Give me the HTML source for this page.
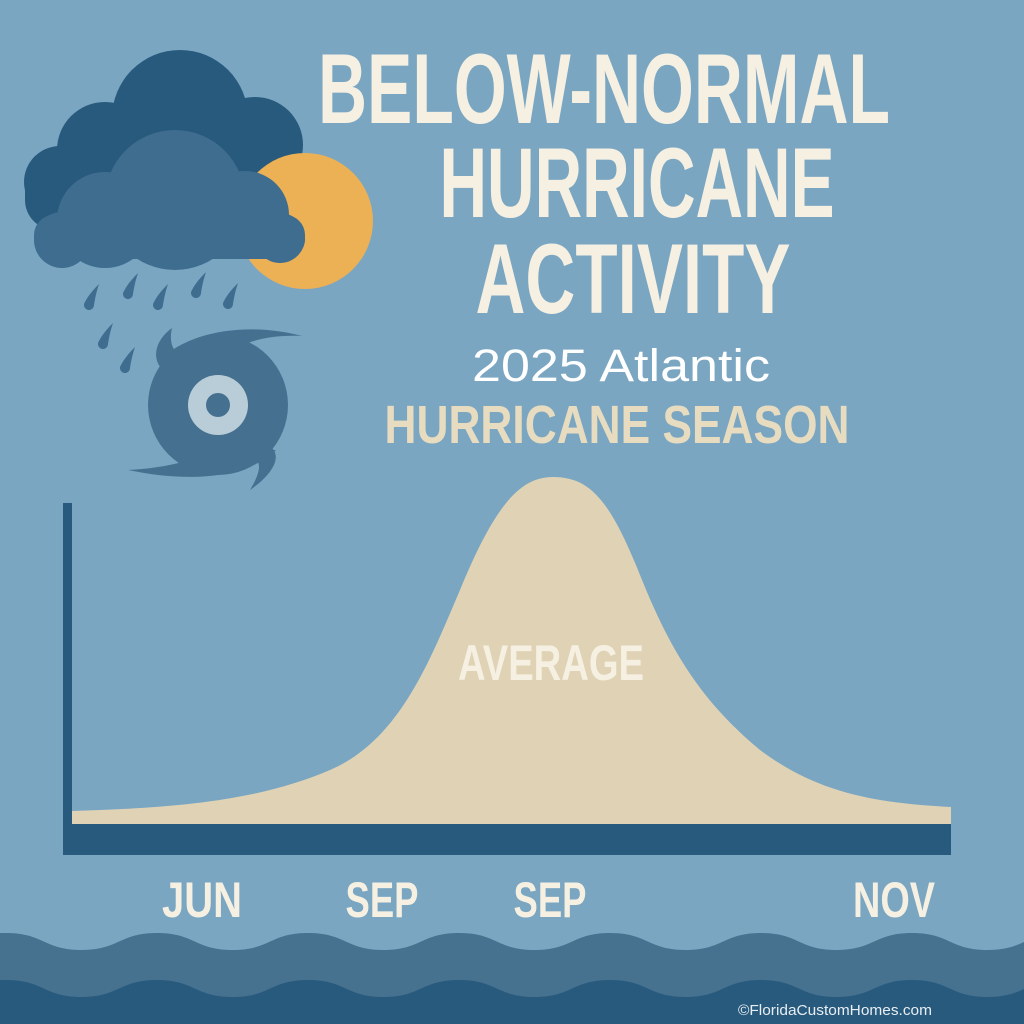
<!DOCTYPE html>
<html><head><meta charset="utf-8"><style>
html,body{margin:0;padding:0;background:#7aa6c2;}
svg{display:block}
.n{font-family:"Liberation Sans Narrow","Liberation Sans",sans-serif;font-weight:bold;}
</style></head><body>
<svg width="1024" height="1024" viewBox="0 0 1024 1024" xmlns="http://www.w3.org/2000/svg">
<rect width="1024" height="1024" fill="#7aa6c2"/>
<g fill="#285a7e">
<circle cx="180" cy="118" r="68"/>
<circle cx="105" cy="150" r="48"/>
<circle cx="60" cy="182" r="36"/>
<circle cx="255" cy="145" r="48"/>
<rect x="25" y="160" width="270" height="70" rx="30"/>
</g>
<circle cx="305" cy="221" r="68" fill="#ecb055"/>
<g fill="#3f6d8f">
<circle cx="175" cy="200" r="70"/>
<circle cx="105" cy="220" r="48"/>
<circle cx="245" cy="215" r="44"/>
<circle cx="280" cy="238" r="25"/>
<circle cx="62" cy="240" r="28"/>
<rect x="34" y="215" width="271" height="44" rx="20"/>
</g>
<g fill="#3f6d8f" id="drops"></g>
<g fill="#45708f">
<circle cx="218" cy="405" r="70"/>
<path d="M160,360 C190,330 250,322 302,336 C262,334 235,345 222,360 Z"/>
<path d="M165,372 C150,360 155,340 172,328 C168,345 175,358 190,355 Z"/>
<path d="M276,450 C245,480 185,482 128,470 C170,468 200,458 215,450 Z"/>
<path d="M268,445 C285,455 272,475 250,490 C262,470 262,460 250,455 Z"/>
</g>
<circle cx="218" cy="405" r="30" fill="#b8cdd8"/>
<circle cx="218" cy="405" r="12" fill="#45708f"/>
<g class="n" fill="#f5f0e2" text-anchor="middle">
<text x="604" y="123" font-size="99" textLength="572" lengthAdjust="spacingAndGlyphs">BELOW-NORMAL</text>
<text x="637" y="217" font-size="99" textLength="395" lengthAdjust="spacingAndGlyphs">HURRICANE</text>
<text x="633" y="313" font-size="99" textLength="315" lengthAdjust="spacingAndGlyphs">ACTIVITY</text>
<text x="617" y="443" font-size="54" fill="#e8dcc0" textLength="465" lengthAdjust="spacingAndGlyphs">HURRICANE SEASON</text>
</g>
<text x="621" y="381" font-family="Liberation Sans,sans-serif" font-size="45" fill="#ffffff" text-anchor="middle" textLength="298" lengthAdjust="spacingAndGlyphs">2025 Atlantic</text>
<rect x="63" y="503" width="9" height="352" fill="#285a7e"/>
<rect x="63" y="824" width="888" height="31" fill="#285a7e"/>
<path d="M72,811 C180,808 260,800 330,770 C400,740 430,660 460,590 C495,505 520,477 553,477 C590,477 610,500 640,575 C670,650 700,700 760,750 C820,795 880,803 951,807 L951,824 L72,824 Z" fill="#e0d3b5"/>
<text class="n" x="551" y="680" font-size="50" fill="#f5f0e2" text-anchor="middle" textLength="186" lengthAdjust="spacingAndGlyphs">AVERAGE</text>
<g class="n" fill="#f5f0e2" font-size="50" text-anchor="middle">
<text x="202" y="917" textLength="80" lengthAdjust="spacingAndGlyphs">JUN</text>
<text x="382" y="917" textLength="73" lengthAdjust="spacingAndGlyphs">SEP</text>
<text x="550" y="917" textLength="73" lengthAdjust="spacingAndGlyphs">SEP</text>
<text x="894" y="917" textLength="82" lengthAdjust="spacingAndGlyphs">NOV</text>
</g>
<path id="w1" fill="#46718f"/>
<path id="w2" fill="#285a7e"/>
<text x="835" y="1015" font-family="Liberation Sans Narrow,Liberation Sans,sans-serif" font-size="15" fill="#e8eef2" text-anchor="middle" textLength="194" lengthAdjust="spacingAndGlyphs">©FloridaCustomHomes.com</text>
</svg>
<script>
function wave(id,top,bot){
 var P=151,x=6-P*1.5,d="M"+x+","+bot;
 while(x<1100){
  d+=" C"+(x+P/4)+","+bot+" "+(x+P/4)+","+top+" "+(x+P/2)+","+top;
  d+=" C"+(x+P*0.75)+","+top+" "+(x+P*0.75)+","+bot+" "+(x+P)+","+bot;
  x+=P;
 }
 d+=" L"+x+",1030 L"+(6-P*1.5)+",1030 Z";
 document.getElementById(id).setAttribute("d",d);
}
wave("w1",933,950);
wave("w2",980,997);
var tips=[[99,284],[138,273],[168,284],[206,272],[238,283],[113,323],[135,347]];
var g=document.getElementById("drops"),h="";
tips.forEach(function(t){var x=t[0],y=t[1];
 h+='<path d="M'+x+','+y+' C'+(x-3)+','+(y+9)+' '+(x-4)+','+(y+15)+' '+(x-5)+','+(y+21)+' A5,5 0 1 1 '+(x-14)+','+(y+18)+' C'+(x-11)+','+(y+12)+' '+(x-6)+','+(y+6)+' '+x+','+y+' Z"/>';});
g.innerHTML=h;
</script>
</body></html>
